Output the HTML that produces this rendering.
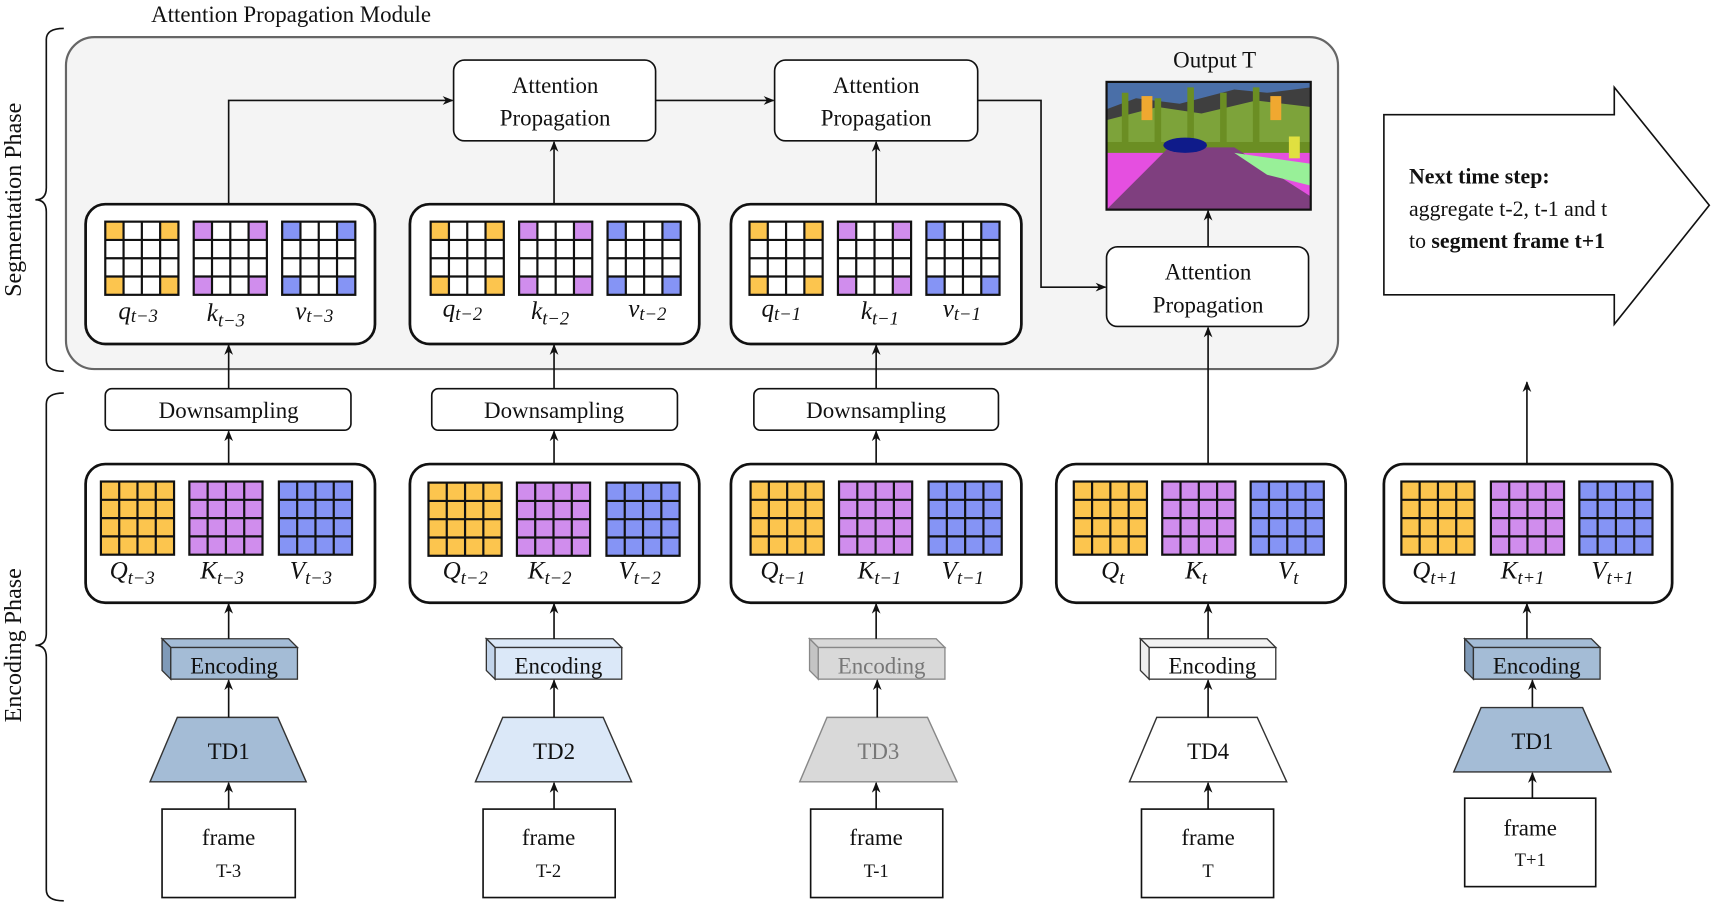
<!DOCTYPE html>
<html><head><meta charset="utf-8"><style>
html,body{margin:0;padding:0;background:#fff;}
svg{display:block;font-family:"Liberation Serif","DejaVu Serif",serif;}
svg text{font-family:"Liberation Serif","DejaVu Serif",serif;fill:#111;}
</style></head><body>
<svg width="1713" height="903" viewBox="0 0 1568 827" xmlns="http://www.w3.org/2000/svg" font-family="Liberation Serif, serif">
<defs>
<marker id="ar" markerWidth="10" markerHeight="10" refX="9" refY="5" orient="auto" markerUnits="userSpaceOnUse"><path d="M0,1 L10,5 L0,9 L3,5 Z" fill="#111"/></marker>
<g id="ln"><rect x="0" y="0" width="67" height="67" fill="none" stroke="#111" stroke-width="2"/><path d="M16.75,0V67M33.5,0V67M50.25,0V67M0,16.75H67M0,33.5H67M0,50.25H67" stroke="#111" stroke-width="2"/></g>
<g id="sy"><rect width="67" height="67" fill="#fff"/><g fill="#fcc54e"><rect width="16.75" height="16.75"/><rect x="50.25" width="16.75" height="16.75"/><rect y="50.25" width="16.75" height="16.75"/><rect x="50.25" y="50.25" width="16.75" height="16.75"/></g><use href="#ln"/></g>
<g id="sp"><rect width="67" height="67" fill="#fff"/><g fill="#d08ded"><rect width="16.75" height="16.75"/><rect x="50.25" width="16.75" height="16.75"/><rect y="50.25" width="16.75" height="16.75"/><rect x="50.25" y="50.25" width="16.75" height="16.75"/></g><use href="#ln"/></g>
<g id="sb"><rect width="67" height="67" fill="#fff"/><g fill="#8594f5"><rect width="16.75" height="16.75"/><rect x="50.25" width="16.75" height="16.75"/><rect y="50.25" width="16.75" height="16.75"/><rect x="50.25" y="50.25" width="16.75" height="16.75"/></g><use href="#ln"/></g>
<g id="fy"><rect width="67" height="67" fill="#fcc54e"/><use href="#ln"/></g>
<g id="fp"><rect width="67" height="67" fill="#d08ded"/><use href="#ln"/></g>
<g id="fb"><rect width="67" height="67" fill="#8594f5"/><use href="#ln"/></g>
</defs>

<text x="138" y="20" font-size="21">Attention Propagation Module</text>
<rect x="60" y="34" width="1165" height="304" rx="26" fill="#f4f4f4" stroke="#666" stroke-width="2"/>

<path d="M58,26 Q42,26 42,36 V172 Q42,183 32,183 Q42,183 42,194 V330 Q42,340 58,340" fill="none" stroke="#111" stroke-width="1.5"/>
<path d="M58,360 Q42,360 42,370 V580 Q42,591 32,591 Q42,591 42,602 V815 Q42,825 58,825" fill="none" stroke="#111" stroke-width="1.5"/>
<text transform="translate(19,183) rotate(-90)" text-anchor="middle" font-size="22">Segmentation Phase</text>
<text transform="translate(19,591) rotate(-90)" text-anchor="middle" font-size="22">Encoding Phase</text>

<g stroke="#111" stroke-width="2.5" fill="#fff">
<rect x="78" y="187" width="265" height="128" rx="18"/>
<rect x="375" y="187" width="265" height="128" rx="18"/>
<rect x="669" y="187" width="266" height="128" rx="18"/>
</g>
<use href="#sy" x="96" y="203"/><use href="#sp" x="177" y="203"/><use href="#sb" x="258" y="203"/>
<use href="#sy" x="394" y="203"/><use href="#sp" x="475" y="203"/><use href="#sb" x="556" y="203"/>
<use href="#sy" x="686" y="203"/><use href="#sp" x="767" y="203"/><use href="#sb" x="848" y="203"/>
<g font-size="23" font-style="italic">
<text x="108" y="292">q<tspan font-size="17" dy="3">t−3</tspan></text>
<text x="189" y="294">k<tspan font-size="17" dy="5">t−3</tspan></text>
<text x="270" y="292">v<tspan font-size="17" dy="3">t−3</tspan></text>
<text x="405" y="290">q<tspan font-size="17" dy="3">t−2</tspan></text>
<text x="486" y="292">k<tspan font-size="17" dy="5">t−2</tspan></text>
<text x="575" y="290">v<tspan font-size="17" dy="3">t−2</tspan></text>
<text x="697" y="290">q<tspan font-size="17" dy="3">t−1</tspan></text>
<text x="788" y="292">k<tspan font-size="17" dy="5">t−1</tspan></text>
<text x="863" y="290">v<tspan font-size="17" dy="3">t−1</tspan></text>
</g>

<g stroke="#111" stroke-width="1.5" fill="#fff">
<rect x="415" y="55" width="185" height="74" rx="10"/>
<rect x="709" y="55" width="186" height="74" rx="10"/>
<rect x="1013" y="226" width="185" height="73" rx="10"/>
</g>
<g font-size="21" text-anchor="middle">
<text x="508" y="85">Attention</text><text x="508" y="115">Propagation</text>
<text x="802" y="85">Attention</text><text x="802" y="115">Propagation</text>
<text x="1106" y="256">Attention</text><text x="1106" y="286">Propagation</text>
<text x="1112" y="62">Output T</text>
</g>

<g>
<rect x="1013" y="75" width="187" height="117" fill="#4a6fa8"/>
<path d="M1013,100 L1040,90 L1080,95 L1130,82 L1160,85 L1200,80 V150 H1013 Z" fill="#3f3f3f"/>
<path d="M1013,110 L1060,98 L1100,104 L1150,92 L1200,98 V150 H1013 Z" fill="#7da33a"/>
<path d="M1030,85 V130 M1060,90 V135 M1090,80 V130 M1120,85 V130 M1150,80 V135" stroke="#6b8e23" stroke-width="6"/>
<path d="M1013,150 L1013,130 L1200,130 V150 Z" fill="#6b8e23"/>
<path d="M1013,140 L1200,140 V192 H1013 Z" fill="#e54fe0"/>
<path d="M1013,192 L1070,135 L1130,135 L1200,180 V192 Z" fill="#7f3f7f"/>
<path d="M1130,140 L1200,150 V170 L1160,160 Z" fill="#98f098"/>
<ellipse cx="1085" cy="133" rx="20" ry="7" fill="#0f1b8a"/>
<rect x="1045" y="88" width="10" height="22" fill="#f0a830"/>
<rect x="1163" y="88" width="10" height="22" fill="#f0a830"/>
<rect x="1180" y="125" width="10" height="20" fill="#e0e040"/>
<rect x="1013" y="75" width="187" height="117" fill="none" stroke="#111" stroke-width="2"/>
</g>

<path d="M1267,105 H1478 V80 L1565,188 L1478,297 V270 H1267 Z" fill="#fff" stroke="#111" stroke-width="1.5"/>
<text x="1290" y="168" font-size="20" font-weight="bold">Next time step:</text>
<text x="1290" y="198" font-size="20">aggregate  t-2, t-1 and t</text>
<text x="1290" y="227" font-size="20">to <tspan font-weight="bold">segment frame t+1</tspan></text>

<g stroke="#111" stroke-width="1.5" fill="#fff">
<rect x="96" y="356" width="225" height="38" rx="6"/>
<rect x="395" y="356" width="225" height="38" rx="6"/>
<rect x="690" y="356" width="224" height="38" rx="6"/>
</g>
<g font-size="21" text-anchor="middle">
<text x="209" y="383">Downsampling</text><text x="507" y="383">Downsampling</text><text x="802" y="383">Downsampling</text>
</g>

<g stroke="#111" stroke-width="2.5" fill="#fff">
<rect x="78" y="425" width="265" height="127" rx="18"/>
<rect x="375" y="425" width="265" height="127" rx="18"/>
<rect x="669" y="425" width="266" height="127" rx="18"/>
<rect x="967" y="425" width="265" height="127" rx="18"/>
<rect x="1267" y="425" width="264" height="127" rx="18"/>
</g>
<use href="#fy" x="92" y="441"/><use href="#fp" x="173" y="441"/><use href="#fb" x="255" y="441"/>
<use href="#fy" x="392" y="442"/><use href="#fp" x="473" y="442"/><use href="#fb" x="555" y="442"/>
<use href="#fy" x="687" y="441"/><use href="#fp" x="768" y="441"/><use href="#fb" x="850" y="441"/>
<use href="#fy" x="983" y="441"/><use href="#fp" x="1064" y="441"/><use href="#fb" x="1145" y="441"/>
<use href="#fy" x="1283" y="441"/><use href="#fp" x="1365" y="441"/><use href="#fb" x="1446" y="441"/>
<g font-size="23" font-style="italic">
<text x="100" y="530">Q<tspan font-size="17" dy="5">t−3</tspan></text>
<text x="183" y="530">K<tspan font-size="17" dy="5">t−3</tspan></text>
<text x="265" y="530">V<tspan font-size="17" dy="5">t−3</tspan></text>
<text x="405" y="530">Q<tspan font-size="17" dy="5">t−2</tspan></text>
<text x="483" y="530">K<tspan font-size="17" dy="5">t−2</tspan></text>
<text x="566" y="530">V<tspan font-size="17" dy="5">t−2</tspan></text>
<text x="696" y="530">Q<tspan font-size="17" dy="5">t−1</tspan></text>
<text x="785" y="530">K<tspan font-size="17" dy="5">t−1</tspan></text>
<text x="862" y="530">V<tspan font-size="17" dy="5">t−1</tspan></text>
<text x="1008" y="530">Q<tspan font-size="17" dy="5">t</tspan></text>
<text x="1085" y="530">K<tspan font-size="17" dy="5">t</tspan></text>
<text x="1170" y="530">V<tspan font-size="17" dy="5">t</tspan></text>
<text x="1293" y="530">Q<tspan font-size="17" dy="5">t+1</tspan></text>
<text x="1374" y="530">K<tspan font-size="17" dy="5">t+1</tspan></text>
<text x="1457" y="530">V<tspan font-size="17" dy="5">t+1</tspan></text>
</g>

<g stroke="#333" stroke-width="1.2">
<g fill="#a4bcd6"><polygon points="148,585 264,585 272,593 156,593"/><polygon points="148,585 156,593 156,622 148,614" fill="#7f9ab8"/><rect x="156" y="593" width="116" height="29"/></g>
<g fill="#dbe8f8"><polygon points="445,585 561,585 569,593 453,593"/><polygon points="445,585 453,593 453,622 445,614" fill="#c2d4ea"/><rect x="453" y="593" width="116" height="29"/></g>
<g fill="#d9d9d9" stroke="#888"><polygon points="741,585 857,585 865,593 749,593"/><polygon points="741,585 749,593 749,622 741,614" fill="#c4c4c4"/><rect x="749" y="593" width="116" height="29"/></g>
<g fill="#fff"><polygon points="1044,585 1160,585 1168,593 1052,593" fill="#f2f2f2"/><polygon points="1044,585 1052,593 1052,622 1044,614" fill="#eee"/><rect x="1052" y="593" width="116" height="29"/></g>
<g fill="#a4bcd6"><polygon points="1341,585 1457,585 1465,593 1349,593"/><polygon points="1341,585 1349,593 1349,622 1341,614" fill="#7f9ab8"/><rect x="1349" y="593" width="116" height="29"/></g>
</g>
<g font-size="21" text-anchor="middle">
<text x="214" y="617">Encoding</text>
<text x="511" y="617">Encoding</text>
<text x="807" y="617" fill="#777" style="fill:#777">Encoding</text>
<text x="1110" y="617">Encoding</text>
<text x="1407" y="617">Encoding</text>
</g>

<g stroke="#333" stroke-width="1.3">
<polygon points="162,657 254,657 280,716 137,716" fill="#a4bcd6"/>
<polygon points="460,657 552,657 578,716 435,716" fill="#dbe8f8"/>
<polygon points="757,657 849,657 876,716 732,716" fill="#d9d9d9" stroke="#888"/>
<polygon points="1059,657 1151,657 1178,716 1034,716" fill="#fff"/>
<polygon points="1356,648 1449,648 1475,707 1331,707" fill="#a4bcd6"/>
</g>
<g font-size="21" text-anchor="middle">
<text x="209" y="695">TD1</text><text x="507" y="695">TD2</text><text x="804" y="695" style="fill:#777">TD3</text><text x="1106" y="695">TD4</text><text x="1403" y="686">TD1</text>
</g>

<g stroke="#111" stroke-width="1.5" fill="#fff">
<rect x="148" y="741" width="122" height="81"/>
<rect x="442" y="741" width="121" height="81"/>
<rect x="742" y="741" width="121" height="81"/>
<rect x="1045" y="741" width="121" height="81"/>
<rect x="1341" y="731" width="120" height="81"/>
</g>
<g text-anchor="middle">
<text x="209" y="774" font-size="21">frame</text><text x="209" y="803" font-size="17">T-3</text>
<text x="502" y="774" font-size="21">frame</text><text x="502" y="803" font-size="17">T-2</text>
<text x="802" y="774" font-size="21">frame</text><text x="802" y="803" font-size="17">T-1</text>
<text x="1106" y="774" font-size="21">frame</text><text x="1106" y="803" font-size="17">T</text>
<text x="1401" y="765" font-size="21">frame</text><text x="1401" y="793" font-size="17">T+1</text>
</g>

<g stroke="#111" stroke-width="1.5" fill="none" marker-end="url(#ar)">
<path d="M209,187 V92 H414"/>
<path d="M507,187 V130"/>
<path d="M600,92 H708"/>
<path d="M802,187 V130"/>
<path d="M895,92 H953 V263 H1012"/>
<path d="M1106,226 V193"/>
<path d="M1106,425 V300"/>
<path d="M1398,425 V350"/>
<path d="M209,356 V316"/><path d="M507,356 V316"/><path d="M802,356 V316"/>
<path d="M209,425 V395"/><path d="M507,425 V395"/><path d="M802,425 V395"/>
<path d="M209,585 V553"/><path d="M507,585 V553"/><path d="M802,585 V553"/><path d="M1106,585 V553"/><path d="M1398,585 V553"/>
<path d="M209,657 V623"/><path d="M507,657 V623"/><path d="M803,657 V623"/><path d="M1106,657 V623"/><path d="M1403,648 V623"/>
<path d="M209,741 V717"/><path d="M507,741 V717"/><path d="M802,741 V717"/><path d="M1106,741 V717"/><path d="M1403,731 V708"/>
</g>
</svg>
</body></html>
